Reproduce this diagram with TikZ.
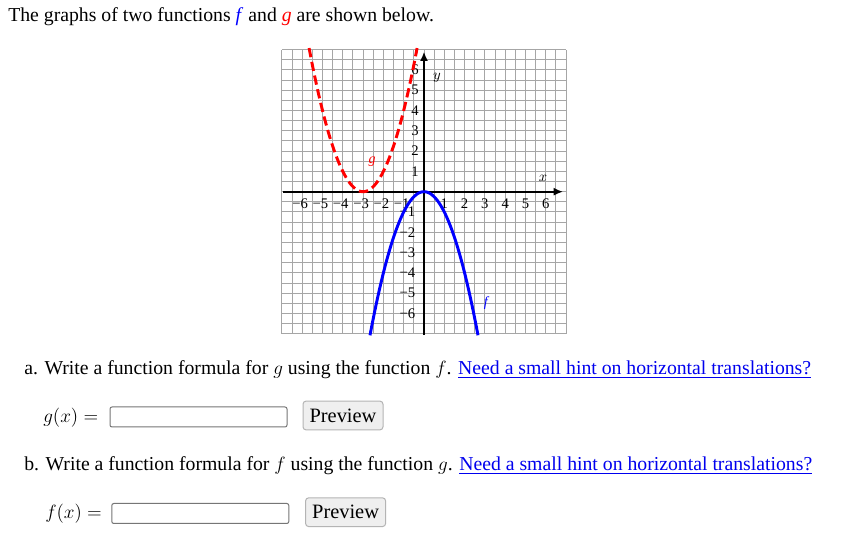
\documentclass[tikz,border=0pt]{standalone}
\usepackage{fontspec}
\setmainfont{Liberation Serif}
\usetikzlibrary{arrows.meta}
\definecolor{linkblue}{HTML}{0000EE}
\definecolor{boxgray}{HTML}{767676}
\definecolor{btnfill}{HTML}{EFEFEF}
\definecolor{btnline}{HTML}{B4B4B4}
\tikzset{
  txt/.style={anchor=base west, inner sep=0, font=\fontsize{14.8}{17}\selectfont},
  mathtxt/.style={anchor=base west, inner sep=0, font=\fontsize{15.8}{18}\selectfont},
  tick/.style={inner sep=0, font=\fontsize{11}{12}\selectfont},
  varlab/.style={inner sep=0, font=\fontsize{10.5}{12}\selectfont\itshape},
  inbox/.style={draw=boxgray, line width=.75pt, rounded corners=1.5pt, minimum width=132.75pt, minimum height=15pt, inner sep=0},
  button/.style={draw=btnline, fill=btnfill, line width=.75pt, rounded corners=2.25pt, minimum width=60pt, minimum height=21.5pt, inner sep=0, font=\fontsize{15.3}{17}\selectfont}
}

\begin{document}
\begin{tikzpicture}[x=.75pt,y=-.75pt]
\useasboundingbox[fill=white] (0,0) rectangle (844,552);
\node[txt] (title) at (8,21.7) {The graphs of two functions \textcolor{blue}{\textit{f}} and \textcolor{red}{\textit{g}} are shown below.};

% graph of f and g
\begin{scope}[shift={(424,191.7)}, x=15.225pt, y=15.225pt]
\draw[black!35, line width=.75pt] (-7,-7) grid[step=.5] (7,7);
\coordinate (xl) at (-6.95,0); \coordinate (xr) at (6.85,0);
\coordinate (yb) at (0,-7.05); \coordinate (yt) at (0,6.9);
\draw[line width=1.5pt, -{Latex[length=7pt,width=6pt]}] (xl) -- (xr);
\draw[line width=1.5pt, -{Latex[length=7pt,width=6pt]}] (yb) -- (yt);
\foreach \n in {1,...,6} {
 \node[tick] (xp\n) at (\n,-.6) {\n};
 \node[tick] (xm\n) at (-\n-.1,-.6) {−\n};
 \node[tick] (yp\n) at (-.44,\n) {\n};
 \node[tick] (ym\n) at (-.82,-\n) {−\n};
}
\draw[blue, line width=2.2pt] plot[domain=-2.66:2.66, samples=80, smooth] (\x,{-\x*\x});
\draw[red, line width=2.2pt, dash pattern=on 7pt off 3.5pt] plot[domain=-5.66:-0.34, samples=80, smooth] (\x,{(\x+3)*(\x+3)});
\node[varlab] (ylab) at (.64,5.6) {$y$};
\node[varlab] (xlab) at (5.86,.67) {$x$};
\node[varlab, text=red] (glab) at (-2.56,1.46) {g};
\node[varlab, text=blue] (flab) at (3.05,-5.5) {f};
\end{scope}

% part a
\node[txt] (qa) at (24,375) {a. Write a function formula for $g$ using the function $f$. \textcolor{linkblue}{\underline{Need a small hint on horizontal translations?}}};
\node[mathtxt] (ga) at (43,423) {$g(x) =$};
\node[inbox] (gin) at (198.5,417) {};
\node[button] (gbtn) at (343,415.5) {Preview};

% part b
\node[txt] (qb) at (24,471) {b. Write a function formula for $f$ using the function $g$. \textcolor{linkblue}{\underline{Need a small hint on horizontal translations?}}};
\node[mathtxt] (fb) at (45,519) {$f(x) =$};
\node[inbox] (fin) at (200.3,513.5) {};
\node[button] (fbtn) at (345.6,512.2) {Preview};
\end{tikzpicture}
\end{document}
